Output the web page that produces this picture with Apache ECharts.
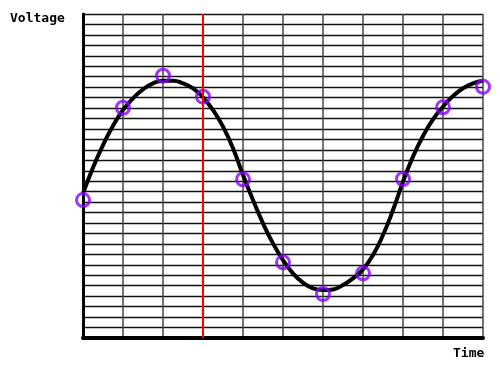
<!DOCTYPE html>
<html>
<head>
<meta charset="utf-8">
<script src="https://cdn.jsdelivr.net/npm/echarts@6/dist/echarts.min.js"></script>
<style>html,body{margin:0;padding:0;background:#fff;}#c{width:500px;height:370px;}</style>
</head>
<body>
<div id="c"></div>
<script>
// Smooth curve (time, voltage)
var curveTime = [0, 0.25, 0.5, 0.75, 1, 1.25, 1.5, 1.75, 2, 2.25, 2.5, 2.75, 3, 3.25, 3.5, 3.75, 4, 4.25, 4.5, 4.75, 5,
                 5.25, 5.5, 5.75, 6, 6.25, 6.5, 6.75, 7, 7.25, 7.5, 7.75, 8, 8.25, 8.5, 8.75, 9, 9.25, 9.5, 9.75, 10];
var curveVolt = [-0.116, 0.130, 0.345, 0.530, 0.681, 0.793, 0.879, 0.937, 0.962, 0.962, 0.937, 0.889, 0.803, 0.681, 0.522, 0.315, 0.059, -0.180, -0.403, -0.595, -0.754,
                 -0.882, -0.971, -1.025, -1.041, -1.035, -0.993, -0.930, -0.843, -0.706, -0.515, -0.276, -0.005, 0.235, 0.433, 0.592, 0.713, 0.815, 0.889, 0.937, 0.962];
// Sampled points (purple circles)
var sampleTime = [0, 1, 2, 3, 4, 5, 6, 7, 8, 9, 10];
var sampleVolt = [-0.180, 0.703, 1.010, 0.809, 0.018, -0.776, -1.079, -0.881, 0.021, 0.707, 0.904];
// Marker line position
var markerTime = 3;
var xName = 'Time';
var yName = 'Voltage';

function pairs(xs, ys) { return xs.map(function (x, i) { return [x, ys[i]]; }); }

var chart = echarts.init(document.getElementById('c'));
chart.setOption({
  animation: false,
  backgroundColor: '#fff',
  grid: { left: 83, top: 14, width: 400, height: 324 },
  xAxis: {
    type: 'value', min: 0, max: 10, interval: 1,
    axisLine: { show: true, onZero: false, lineStyle: { color: '#000', width: 4 } },
    axisTick: { show: false },
    axisLabel: { show: false },
    splitLine: { show: true, lineStyle: { color: '#444', width: 1.5 } }
  },
  yAxis: {
    type: 'value', min: -1.5, max: 1.6, interval: 0.1,
    axisLine: { show: true, onZero: false, lineStyle: { color: '#000', width: 3 } },
    axisTick: { show: false },
    axisLabel: { show: false },
    splitLine: { show: true, lineStyle: { color: '#111', width: 1.3 } }
  },
  graphic: [
    { type: 'text', left: 10, top: 12, style: { text: yName, font: 'bold 13px "DejaVu Sans Mono"', fill: '#000' } },
    { type: 'text', left: 453, top: 347, style: { text: xName, font: 'bold 13px "DejaVu Sans Mono"', fill: '#000' } }
  ],
  series: [
    {
      type: 'line', data: pairs(curveTime, curveVolt), smooth: true, showSymbol: false,
      lineStyle: { color: '#000', width: 4 }, z: 3,
      markLine: {
        silent: true, symbol: ['none', 'none'], label: { show: false },
        lineStyle: { color: '#ff0000', width: 2, type: 'solid' },
        data: [{ xAxis: markerTime }]
      }
    },
    {
      type: 'scatter', data: pairs(sampleTime, sampleVolt), symbol: 'circle', symbolSize: 13,
      itemStyle: { color: 'rgba(0,0,0,0)', borderColor: '#8800ff', borderWidth: 3 }, z: 4
    }
  ]
});
</script>
</body>
</html>
